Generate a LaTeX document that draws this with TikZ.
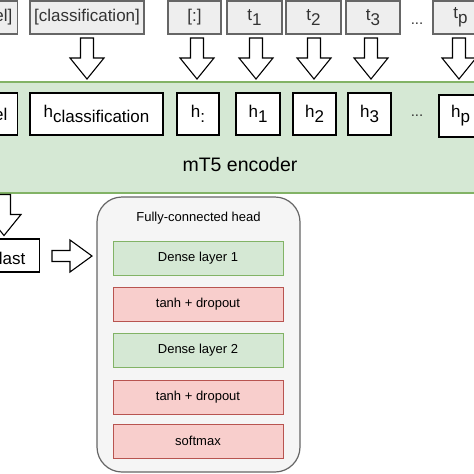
\documentclass[tikz,border=0pt]{standalone}
\usepackage{fontspec}
\setmainfont{Liberation Sans}
\definecolor{topfill}{HTML}{EEEEEE}
\definecolor{topline}{HTML}{666666}
\definecolor{txtgray}{HTML}{333333}
\definecolor{encfill}{HTML}{D5E8D4}
\definecolor{encline}{HTML}{82B366}
\definecolor{redfill}{HTML}{F8CECC}
\definecolor{redline}{HTML}{B85450}
\definecolor{headfill}{HTML}{F5F5F5}
\newcommand{\sbl}[1]{\raisebox{-5pt}{#1}}
\begin{document}
\begin{tikzpicture}[x=1pt,y=-1pt,
  topbox/.style={draw=topline, fill=topfill, text=txtgray, line width=1.3,
    font=\fontsize{17}{20}\selectfont, minimum height=33, inner sep=0},
  hbox/.style={draw=black, fill=white, text=black, line width=1.2,
    font=\fontsize{17}{20}\selectfont, minimum height=42, inner sep=0},
  blockarrow/.style={draw=black, fill=white, line width=1.1, line join=miter},
  layer/.style={minimum width=170, minimum height=34, inner sep=0,
    line width=1, font=\fontsize{13}{15}\selectfont, text=black},
  greenlayer/.style={layer, draw=encline, fill=encfill},
  redlayer/.style={layer, draw=redline, fill=redfill},
  dots/.style={font=\fontsize{15}{17}\selectfont, text=txtgray},
  pics/downarrow/.style={code={
    \draw[blockarrow] (-6.5,0) -- (6.5,0) -- (6.5,20) -- (17,20) -- (0,41)
      -- (-17,20) -- (-6.5,20) -- cycle;}},
  pics/rightarrow/.style={code={
    \draw[blockarrow] (0,-5.5) -- (18,-5.5) -- (18,-16) -- (40,0)
      -- (18,16) -- (18,5.5) -- (0,5.5) -- cycle;}}
]
\useasboundingbox (0,0) rectangle (474,474);
\clip (0,0) rectangle (474,474);

% encoder band
\node[draw=encline, fill=encfill, line width=1.2, minimum width=490, minimum height=111, inner sep=0] (enc) at (237,137.5) {};
\node[font=\fontsize{19.5}{22}\selectfont, text=black] (enclbl) at (240,165) {mT5 encoder};

% top row
\node[topbox, anchor=east, text width=50, align=right, inner xsep=5] (tlbl) at (18,17.5) {el]};
\node[topbox, minimum width=114] (tcls) at (87,17.5) {[classification]};
\node[topbox, minimum width=53] (tcol) at (194.5,17.5) {[:]};
\node[topbox, minimum width=55] (t1) at (254.5,17.5) {t\sbl{1}};
\node[topbox, minimum width=55] (t2) at (313.5,17.5) {t\sbl{2}};
\node[topbox, minimum width=54] (t3) at (373,17.5) {t\sbl{3}};
\node[dots] (tdots) at (417,24) {...};
\node[topbox, minimum width=55] (tp) at (460.5,17.5) {t\sbl{p}};

% arrows into encoder
\pic at (87,38) {downarrow};
\pic at (197,38) {downarrow};
\pic at (256,38) {downarrow};
\pic at (314,38) {downarrow};
\pic at (371,38) {downarrow};
\pic at (459,38) {downarrow};

\node[hbox, anchor=east, text width=40, align=right, inner xsep=10] (hlbl) at (18,114) {\sbl{el}};
\node[hbox, minimum width=133] (hcls) at (96.5,114) {h\sbl{classification}};
\node[hbox, minimum width=42] (hcol) at (198,114) {h\sbl{:}};
\node[hbox, minimum width=44] (h1) at (258,114) {h\sbl{1}};
\node[hbox, minimum width=43] (h2) at (314.5,114) {h\sbl{2}};
\node[hbox, minimum width=43] (h3) at (369.5,114) {h\sbl{3}};
\node[dots] (hdots) at (417,116) {...};
\node[hbox, minimum width=43] (hp) at (460.5,116) {h\sbl{p}};

% down to h_last
\pic at (4,194.5) {downarrow};
\node[hbox, anchor=east, text width=62, align=right, inner xsep=14, minimum height=33] (hlast) at (40,255.5) {h\sbl{last}};

% right arrow
\pic at (52,256) {rightarrow};

% fully-connected head
\node[draw=topline, fill=headfill, line width=1.2, rounded corners=25, minimum width=203, minimum height=275, inner sep=0] (head) at (198.5,334.5) {};
\node[font=\fontsize{13}{15}\selectfont, text=black] (headlbl) at (198.5,218) {Fully-connected head};
\node[greenlayer] (d1) at (198,258.5) {Dense layer 1};
\node[redlayer] (r1) at (198,304.5) {tanh + dropout};
\node[greenlayer] (d2) at (198,350.5) {Dense layer 2};
\node[redlayer] (r2) at (198,397) {tanh + dropout};
\node[redlayer] (sm) at (198,441) {softmax};
\end{tikzpicture}
\end{document}
